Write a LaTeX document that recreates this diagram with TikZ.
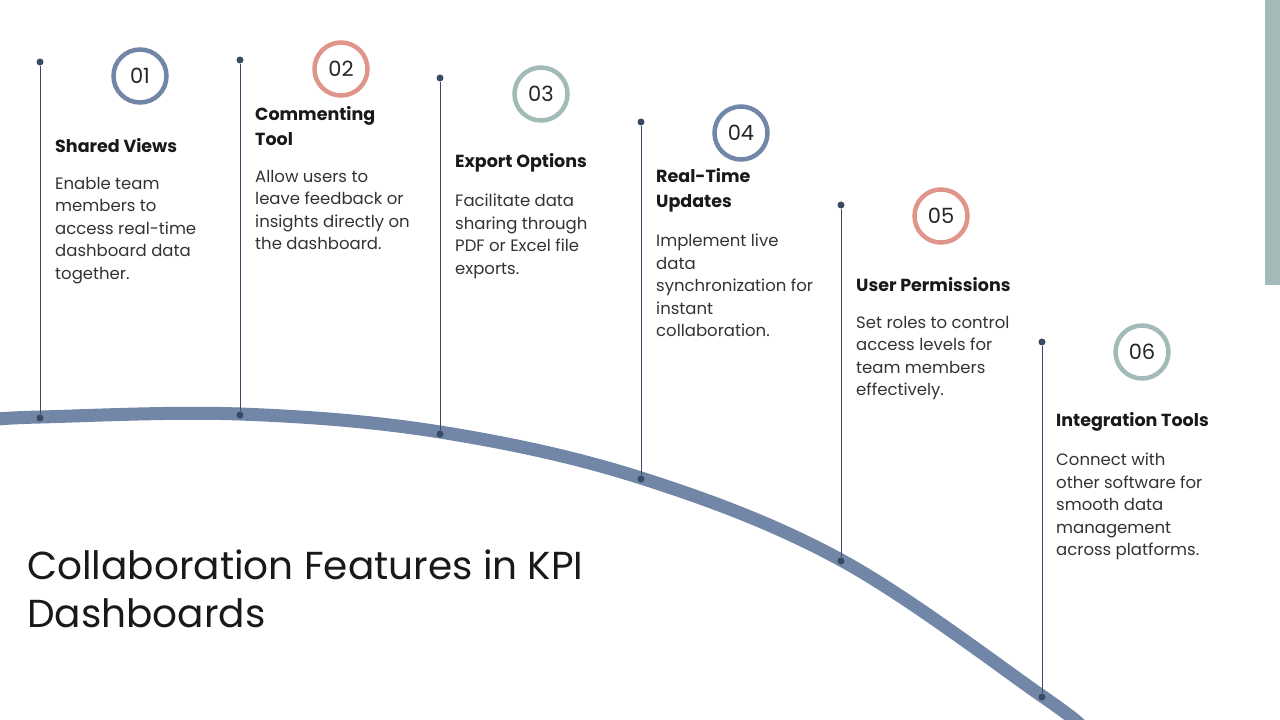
\documentclass[tikz,border=0pt]{standalone}
\usepackage{fontspec}
\setmainfont{Poppins}
\begin{document}
\begin{tikzpicture}[x=1pt,y=-1pt,
  ring/.style={circle,draw=#1,line width=4.5pt,minimum size=53pt,inner sep=0pt,font=\fontsize{21}{21}\selectfont\color{black!85}},
  vline/.style={draw=dotc,line width=1pt},
  dotn/.style={circle,fill=dotc,inner sep=0pt,minimum size=7pt},
  ttl/.style={anchor=west,align=left,inner sep=0pt,font=\fontsize{17.5}{25}\selectfont\bfseries,text=black!90},
  body/.style={anchor=north west,align=left,inner sep=0pt,font=\fontsize{16.5}{22.5}\selectfont,text=black!80}]
\definecolor{dotc}{HTML}{3B4A63}
\definecolor{cblue}{HTML}{7286A8}
\definecolor{cpink}{HTML}{E0958A}
\definecolor{cgray}{HTML}{A3BBB8}
\useasboundingbox[fill=white] (0,0) rectangle (1280,720);
\fill[cgray] (1265,0) rectangle (1280,285);
\draw[cblue,line width=13pt] plot[smooth,tension=0.6] coordinates {(-10,420) (40,417) (240,414) (440,432) (641,478) (841,560) (1042,696) (1080,725)};
\foreach \n/\x/\t/\b in {1/40/62/418,2/240/60/415,3/440/78/434,4/641/122/479,5/841/205/561,6/1042/342/697}{
  \node[dotn] (t\n) at (\x,\t) {};
  \node[dotn] (b\n) at (\x,\b) {};
  \draw[vline] (t\n) -- (b\n);
}
\node[ring=cblue] (c1) at (140,76) {01};
\node[ring=cpink] (c2) at (341,69) {02};
\node[ring=cgray] (c3) at (541,94) {03};
\node[ring=cblue] (c4) at (741,133) {04};
\node[ring=cpink] (c5) at (941,216) {05};
\node[ring=cgray] (c6) at (1142,352) {06};
\node[ttl] (h1) at (55,146) {Shared Views};
\node[ttl] (h2) at (255,126) {Commenting\\Tool};
\node[ttl] (h3) at (455,163) {Export Options};
\node[ttl] (h4) at (656,190) {Real-Time\\Updates};
\node[ttl] (h5) at (856,285) {User Permissions};
\node[ttl] (h6) at (1056,422) {Integration Tools};
\node[body] (d1) at (55,177) {Enable team\\members to\\access real-time\\dashboard data\\together.};
\node[body] (d2) at (255,170) {Allow users to\\leave feedback or\\insights directly on\\the dashboard.};
\node[body] (d3) at (455,194) {Facilitate data\\sharing through\\PDF or Excel file\\exports.};
\node[body] (d4) at (656,234) {Implement live\\data\\synchronization for\\instant\\collaboration.};
\node[body] (d5) at (856,316) {Set roles to control\\access levels for\\team members\\effectively.};
\node[body] (d6) at (1056,453) {Connect with\\other software for\\smooth data\\management\\across platforms.};
\node[anchor=west,align=left,inner sep=0pt,font=\fontsize{39}{48}\selectfont,text=black!90] (title) at (27,589) {Collaboration Features in KPI\\Dashboards};
\end{tikzpicture}
\end{document}
